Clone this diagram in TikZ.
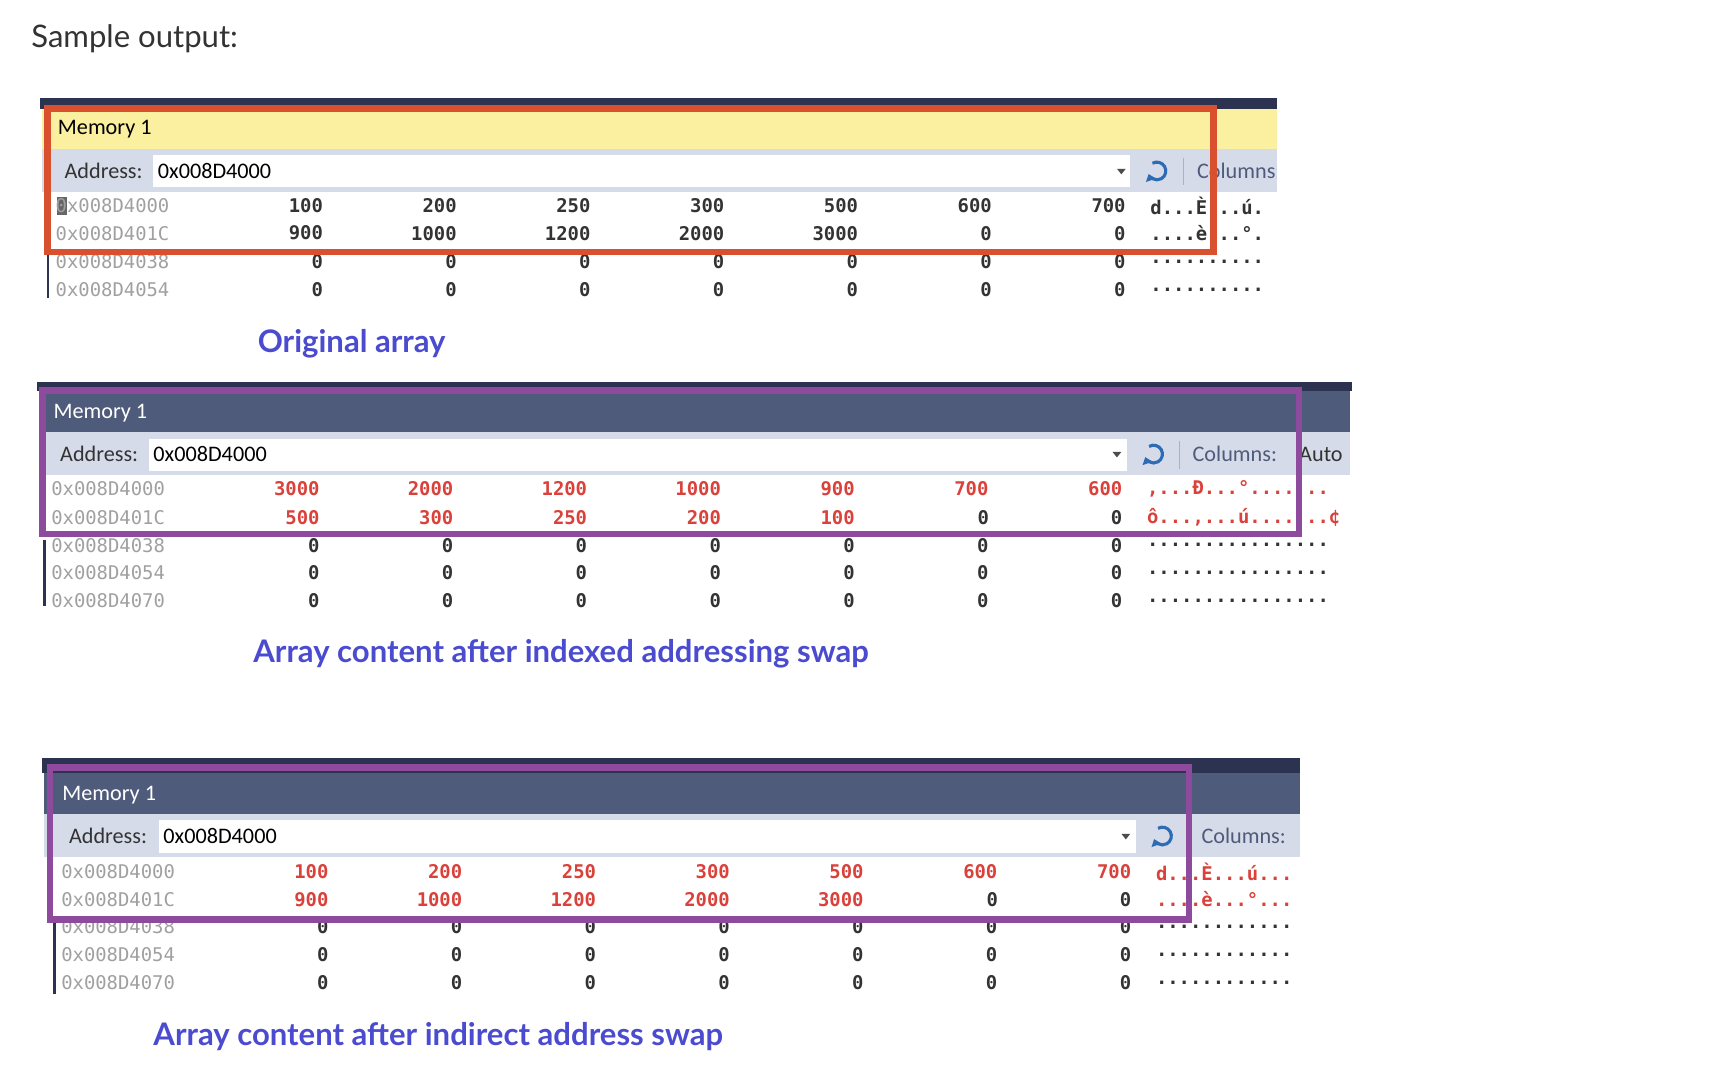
\documentclass[tikz,border=0pt]{standalone}
\usepackage{fontspec}
\setmainfont{Carlito}
\newfontfamily\lbl{Lato}
\newfontfamily\mono{DejaVu Sans Mono}
\usetikzlibrary{arrows.meta}
\definecolor{redbox}{HTML}{D9502F}
\definecolor{purp}{HTML}{8E4B9E}
\definecolor{titledark}{HTML}{4F5B7A}
\definecolor{topbar}{HTML}{2B3350}
\definecolor{addrbg}{HTML}{D6DBE9}
\definecolor{yel}{HTML}{FBF0A0}
\definecolor{lblblue}{HTML}{4B4BD0}
\definecolor{valred}{HTML}{D9413A}
\definecolor{addrgrey}{HTML}{A0A0A0}
\definecolor{numdark}{HTML}{333333}
\definecolor{refblue}{HTML}{2D6BB5}
\tikzset{
 num/.style={font=\mono\bfseries\fontsize{17}{17}\selectfont, anchor=east, inner sep=0pt, text=numdark},
 adr/.style={font=\mono\fontsize{17}{17}\selectfont, anchor=west, inner sep=0pt, text=addrgrey},
 asc/.style={font=\mono\bfseries\fontsize{17}{17}\selectfont, anchor=west, inner sep=0pt, text=numdark},
 ui/.style={font=\fontsize{20}{20}\selectfont, anchor=west, inner sep=0pt},
 caption/.style={font=\lbl\bfseries\fontsize{28}{28}\selectfont, anchor=west, inner sep=0pt, text=lblblue},
 hl/.style={line width=6pt}
}
\newcommand\valrow[5]{% y, base, color, values, name
 \foreach \v [count=\i] in {#4} {\node[num, text=#3] (#5\i) at ({#2+(\i-1)*120.5},#1) {\v};}}
\newcommand\refresh[3]{% x y name
 \coordinate (#3) at (#1,#2);
 \draw[refblue, line width=2.8pt, -{Triangle[length=6pt,width=9pt]}] ([shift={(-120:8)}]#3) arc[start angle=-120,end angle=160,radius=8];}
\begin{document}
\begin{tikzpicture}[x=1pt,y=-1pt]
\useasboundingbox (0,0) rectangle (1560,982);
\node[font=\lbl\fontsize{28}{28}\selectfont, anchor=west, inner sep=0pt, text=black!80] (title) at (28,35) {Sample output:};
% ---------- panel 1
\begin{scope}
\clip (36,88) rectangle (1150,270);
\fill[topbar] (36,88) rectangle (1150,98);
\fill[yel] (38,98) rectangle (1150,134);
\fill[addrbg] (38,134) rectangle (1150,173);
\fill[white] (138,140) rectangle (1018,168);
\node[ui] (a1) at (52,116) {Memory 1};
\node[ui, text=numdark] (a2) at (58,154) {Address:};
\node[ui] (a3) at (142,154) {0x008D4000};
\fill[black!70] (1006,152) -- (1014,152) -- (1010,157) -- cycle;
\refresh{1042}{154}{r1}
\draw[black!30, line width=1pt] (1066,142) -- (1066,167);
\node[ui, text=titledark] (c1) at (1078,154) {Columns:};
\draw[topbar, line width=2pt] (43,225) -- (43,268);
\fill[black!60] (51,177) rectangle (60,194);
\foreach \y/\t [count=\k] in {185/0x008D4000,210/0x008D401C,236/0x008D4038,261/0x008D4054} \node[adr] (p1a\k) at (50,\y) {\t};
\valrow{185}{291}{numdark}{100,200,250,300,500,600,700}{p1r1}
\valrow{210}{291}{numdark}{900,1000,1200,2000,3000,0,0}{p1r2}
\valrow{236}{291}{numdark}{0,0,0,0,0,0,0}{p1r3}
\valrow{261}{291}{numdark}{0,0,0,0,0,0,0}{p1r4}
\node[asc] (s11) at (1036,185) {d...È...ú.};
\node[asc] (s12) at (1036,210) {....è...°.};
\node[asc] (s13) at (1036,236) {..........};
\node[asc] (s14) at (1036,261) {..........};
\end{scope}
\draw[redbox, hl] (43,98) rectangle (1093,227);
\node[caption] (cap1) at (232,310) {Original array};
% ---------- panel 2
\begin{scope}
\clip (33,344) rectangle (1218,550);
\fill[topbar] (33,344) rectangle (1218,352);
\fill[titledark] (36,352) rectangle (1216,389);
\fill[addrbg] (36,389) rectangle (1216,428);
\fill[white] (134,395) rectangle (1015,424);
\node[ui, text=white] (b1) at (48,372) {Memory 1};
\node[ui, text=numdark] (b2) at (54,409) {Address:};
\node[ui] (b3) at (138,409) {0x008D4000};
\fill[black!70] (1002,407) -- (1010,407) -- (1006,412) -- cycle;
\refresh{1039}{409}{r2}
\draw[black!30, line width=1pt] (1062,397) -- (1062,422);
\node[ui, text=titledark] (c2) at (1074,409) {Columns:};
\node[ui, text=numdark] (c2b) at (1170,409) {Auto};
\draw[topbar, line width=2pt] (40,486) -- (40,546);
\foreach \y/\t [count=\k] in {440/0x008D4000,466/0x008D401C,491/0x008D4038,516/0x008D4054,541/0x008D4070} \node[adr] (p2a\k) at (46,\y) {\t};
\valrow{440}{288}{valred}{3000,2000,1200,1000,900,700,600}{p2r1}
\valrow{466}{288}{valred}{500,300,250,200,100}{p2r2}
\node[num] (z21) at (891,466) {0};
\node[num] (z22) at (1011,466) {0};
\valrow{491}{288}{numdark}{0,0,0,0,0,0,0}{p2r3}
\valrow{516}{288}{numdark}{0,0,0,0,0,0,0}{p2r4}
\valrow{541}{288}{numdark}{0,0,0,0,0,0,0}{p2r5}
\node[asc, text=valred] (s21) at (1033,440) {,...Ð...°.......};
\node[asc, text=valred] (s22) at (1033,466) {ô...,...ú.......¢};
\node[asc] (s23) at (1033,491) {................};
\node[asc] (s24) at (1033,516) {................};
\node[asc] (s25) at (1033,541) {................};
\end{scope}
\draw[purp, hl] (38,352) rectangle (1170,481);
\node[caption] (cap2) at (228,589) {Array content after indexed addressing swap};
% ---------- panel 3
\begin{scope}
\clip (38,683) rectangle (1171,895);
\fill[topbar] (38,683) rectangle (1171,696);
\fill[titledark] (40,696) rectangle (1171,733);
\fill[addrbg] (40,733) rectangle (1171,772);
\fill[white] (143,739) rectangle (1023,768);
\node[ui, text=white] (d1) at (56,716) {Memory 1};
\node[ui, text=numdark] (d2) at (62,753) {Address:};
\node[ui] (d3) at (147,753) {0x008D4000};
\fill[black!70] (1010,751) -- (1018,751) -- (1014,756) -- cycle;
\refresh{1047}{753}{r3}
\node[ui, text=titledark] (c3) at (1082,753) {Columns:};
\draw[topbar, line width=2pt] (49,830) -- (49,895);
\foreach \y/\t [count=\k] in {785/0x008D4000,810/0x008D401C,835/0x008D4038,860/0x008D4054,885/0x008D4070} \node[adr] (p3a\k) at (55,\y) {\t};
\valrow{785}{296}{valred}{100,200,250,300,500,600,700}{p3r1}
\valrow{810}{296}{valred}{900,1000,1200,2000,3000}{p3r2}
\node[num] (z31) at (899,810) {0};
\node[num] (z32) at (1019,810) {0};
\valrow{835}{296}{numdark}{0,0,0,0,0,0,0}{p3r3}
\valrow{860}{296}{numdark}{0,0,0,0,0,0,0}{p3r4}
\valrow{885}{296}{numdark}{0,0,0,0,0,0,0}{p3r5}
\node[asc, text=valred] (s31) at (1041,785) {d...È...ú...};
\node[asc, text=valred] (s32) at (1041,810) {....è...°...};
\node[asc] (s33) at (1041,835) {............};
\node[asc] (s34) at (1041,860) {............};
\node[asc] (s35) at (1041,885) {............};
\end{scope}
\draw[purp, hl] (45,691) rectangle (1071,828);
\node[caption] (cap3) at (138,934) {Array content after indirect address swap};
\end{tikzpicture}
\end{document}
